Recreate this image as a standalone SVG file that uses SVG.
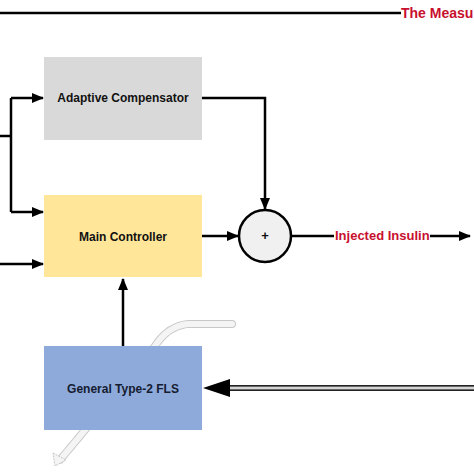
<svg xmlns="http://www.w3.org/2000/svg" width="474" height="474" viewBox="0 0 474 474">
<style>
.lbl{font-family:"Liberation Sans",Arial,sans-serif;font-weight:bold;font-size:12px;text-anchor:middle;fill:#111}
.red{font-family:"Liberation Sans",Arial,sans-serif;font-weight:bold;font-size:13px;fill:#c8102e}
.ln{stroke:#000;stroke-width:2.5;fill:none}
</style>
<defs>
<marker id="ah" viewBox="0 0 12 10" refX="11" refY="5" markerWidth="12" markerHeight="10" markerUnits="userSpaceOnUse" orient="auto">
<path d="M0,0 L12,5 L0,10 Z" fill="#000"/>
</marker>
</defs>
<rect width="474" height="474" fill="#fff"/>
<g id="grey-arrow">
<path d="M232,324 L188,324 Q168,326 155,346 L60,460" fill="none" stroke="#c8c8c8" stroke-width="8" stroke-linecap="round" stroke-dasharray="2 1"/>
<path d="M232,324 L188,324 Q168,326 155,346 L60,460" fill="none" stroke="#f4f4f4" stroke-width="6" stroke-linecap="round"/>
<path d="M53,453 L66,460 L55,466 Z" fill="#f4f4f4" stroke="#c8c8c8" stroke-width="1" stroke-dasharray="2 1"/>
</g>
<g id="connectors">
<line class="ln" x1="0" y1="13" x2="401" y2="13"/>
<path class="ln" d="M0,136 L11,136"/>
<path class="ln" d="M11,98 L11,212"/>
<path class="ln" d="M11,98 L43,98" marker-end="url(#ah)"/>
<path class="ln" d="M11,212 L43,212" marker-end="url(#ah)"/>
<path class="ln" d="M0,264 L43,264" marker-end="url(#ah)"/>
<path class="ln" d="M202,98 L265,98 L265,209" marker-end="url(#ah)"/>
<path class="ln" d="M202,236 L238,236" marker-end="url(#ah)"/>
<path class="ln" d="M291,236 L334,236"/>
<path class="ln" d="M430,236 L470,236" marker-end="url(#ah)"/>
<path class="ln" d="M123,346 L123,279" marker-end="url(#ah)"/>
<line x1="228" y1="388" x2="474" y2="388" stroke="#222" stroke-width="6"/>
<line x1="228" y1="388" x2="474" y2="388" stroke="#aaa" stroke-width="3"/>
<line x1="228" y1="388" x2="474" y2="388" stroke="#fff" stroke-width="1.2"/>
<path d="M203,388 L230,379 L230,397 Z" fill="#000"/>
</g>
<g id="adaptive-compensator">
<rect x="44" y="57" width="158" height="83" fill="#d9d9d9"/>
<text class="lbl" x="123" y="102">Adaptive Compensator</text>
</g>
<g id="main-controller">
<rect x="44" y="195" width="158" height="82" fill="#ffe699"/>
<text class="lbl" x="123" y="241">Main Controller</text>
</g>
<g id="sum">
<circle cx="265" cy="236" r="26" fill="#f0f0f0" stroke="#000" stroke-width="2.5"/>
<text class="lbl" x="265" y="240" style="font-size:13px">+</text>
</g>
<g id="fls">
<rect x="44" y="346" width="158" height="84" fill="#8eaadb"/>
<text class="lbl" x="123" y="393" style="fill:#151c30">General Type-2 FLS</text>
</g>
<g id="labels">
<text class="red" x="335" y="240">Injected Insulin</text>
<text class="red" x="401" y="18" style="font-size:14px">The Measu</text>
</g>
</svg>
